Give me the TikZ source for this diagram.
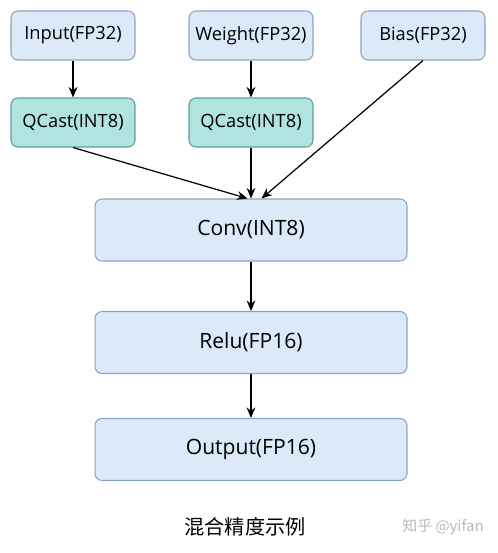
\documentclass[tikz,border=0pt]{standalone}
\usepackage{fontspec}
\setmainfont{Open Sans}
\newfontfamily\cjk{Noto Sans CJK SC}
\usetikzlibrary{arrows.meta}

\definecolor{boxblue}{HTML}{DCE9F8}
\definecolor{lineblue}{HTML}{8FA3BF}
\definecolor{boxteal}{HTML}{B1E4E0}
\definecolor{lineteal}{HTML}{5C9C98}

\begin{document}
\begin{tikzpicture}[x=0.02cm,y=-0.02cm,
    tensor/.style={draw=lineblue, fill=boxblue, rounded corners=4pt, line width=0.6pt,
      minimum width=2.48cm, minimum height=0.98cm, font=\fontsize{10.4}{12}\selectfont},
    qcast/.style={tensor, draw=lineteal, fill=boxteal},
    layer/.style={tensor, minimum width=6.24cm, minimum height=1.24cm,
      font=\fontsize{12}{14}\selectfont},
    flow/.style={-{Stealth[length=6pt,width=5pt]}, line width=0.7pt}]
  \useasboundingbox (0,0) rectangle (497,553);

  \node[tensor] (input)  at (73,35.5)  {Input(FP32)};
  \node[tensor] (weight) at (251,35.5) {Weight(FP32)};
  \node[tensor] (bias)   at (423,35.5) {Bias(FP32)};

  \node[qcast] (qin) at (73,122.5)  {QCast(INT8)};
  \node[qcast] (qw)  at (251,122.5) {QCast(INT8)};

  \node[layer] (conv) at (251,230)   {Conv(INT8)};
  \node[layer] (relu) at (251,342.5) {Relu(FP16)};
  \node[layer] (out)  at (251,449.5) {Output(FP16)};

  \draw[flow] (input) -- (qin);
  \draw[flow] (weight) -- (qw);
  \draw[flow] (qin.south) -- ([xshift=-2]conv.north);
  \draw[flow] (qw) -- (conv);
  \draw[flow] (bias.south) -- ([xshift=6]conv.north);
  \draw[flow] (conv) -- (relu);
  \draw[flow] (relu) -- (out);

  \node[font=\cjk\fontsize{11.5}{13}\selectfont] (caption) at (245,527) {混合精度示例};
  \node[font=\cjk\fontsize{8.5}{10}\selectfont, text=gray!55] (mark) at (443,527) {知乎 @yifan};
\end{tikzpicture}
\end{document}
